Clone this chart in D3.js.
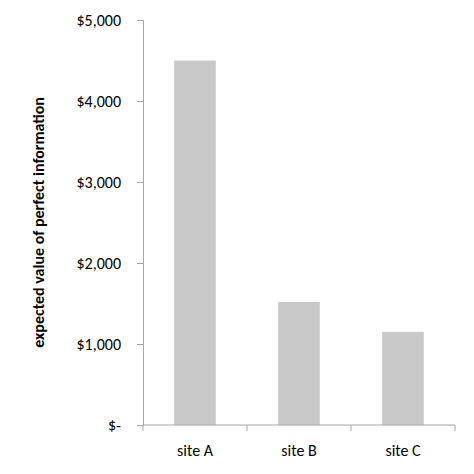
<!DOCTYPE html>
<html><head><meta charset="utf-8">
<script src="https://cdn.jsdelivr.net/npm/d3@7"></script>
<style>body{margin:0;background:#fff}</style>
</head><body>
<svg id="chart" width="474" height="474"></svg>
<script>
const sites = ['site A', 'site B', 'site C']
const evpi = [4500, 1520, 1150]
const yTicks = [0, 1000, 2000, 3000, 4000, 5000]

const svg = d3.select('#chart')
const plotLeft = 143, plotRight = 455, plotTop = 20, plotBottom = 425
const font = 'Carlito, Calibri, "Open Sans", sans-serif'

const x = d3.scaleBand().domain(sites).range([plotLeft, plotRight]).paddingInner(0).paddingOuter(0)
const y = d3.scaleLinear().domain([0, 5000]).range([plotBottom, plotTop])

svg.selectAll('.bar').data(sites).enter().append('rect')
  .attr('x', d => x(d) + x.bandwidth() * 0.3)
  .attr('width', x.bandwidth() * 0.4)
  .attr('y', (d, i) => y(evpi[i]))
  .attr('height', (d, i) => plotBottom - y(evpi[i]))
  .attr('fill', '#c9c9c9')

const fmt = v => v === 0 ? '$-' : '$' + d3.format(',')(v)

const ya = svg.append('g').attr('transform', `translate(${plotLeft},0)`)
  .call(d3.axisLeft(y).tickValues(yTicks).tickFormat(fmt).tickSize(6).tickPadding(16))
ya.selectAll('text').attr('font-size', 16).attr('font-family', font).attr('fill', '#000')
  .attr('text-anchor', 'end')
ya.selectAll('line,path').attr('stroke', '#a6a6a6')

const xa = svg.append('g').attr('transform', `translate(0,${plotBottom})`)
  .call(d3.axisBottom(x).tickSize(0).tickPadding(20))
xa.selectAll('text').attr('font-size', 16).attr('font-family', font).attr('fill', '#000')
xa.select('path').attr('stroke', '#a6a6a6').attr('d', `M${plotLeft},0H${plotRight}`)
xa.selectAll('.sep').data(d3.range(sites.length + 1)).enter().append('line')
  .attr('x1', i => plotLeft + i * x.bandwidth()).attr('x2', i => plotLeft + i * x.bandwidth())
  .attr('y1', 0).attr('y2', 6).attr('stroke', '#a6a6a6')

svg.append('text')
  .attr('transform', `translate(44,${(plotTop + plotBottom) / 2}) rotate(-90)`)
  .attr('text-anchor', 'middle')
  .attr('font-size', 16).attr('font-weight', 'bold').attr('font-family', font)
  .text('expected value of perfect information')
</script>
</body></html>
